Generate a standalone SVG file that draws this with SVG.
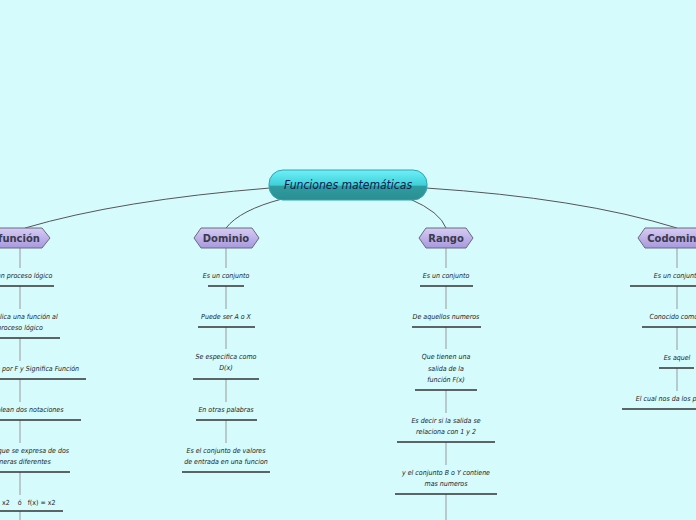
<svg xmlns="http://www.w3.org/2000/svg" width="696" height="520" viewBox="0 0 696 520">
<defs>
<linearGradient id="rg" x1="0" y1="0" x2="0" y2="1"><stop offset="0" stop-color="#6ff0f6"/><stop offset="0.5" stop-color="#3fd0da"/><stop offset="0.55" stop-color="#2f9c9f"/><stop offset="1" stop-color="#2a8e92"/></linearGradient>
<linearGradient id="hg" x1="0" y1="0" x2="0" y2="1"><stop offset="0" stop-color="#d6ccf4"/><stop offset="1" stop-color="#a898de"/></linearGradient>
</defs>
<style>
.t{font-family:"DejaVu Sans Condensed","DejaVu Sans",sans-serif;font-style:italic;font-size:7px;fill:#222;text-anchor:middle}
.h{font-family:"DejaVu Sans","Liberation Sans",sans-serif;font-weight:bold;font-size:10px;fill:#3a3a4a;text-anchor:middle}
.hex{fill:url(#hg);stroke:#6a6a7a;stroke-width:1}
.u{stroke:#333;stroke-width:1.3}
.v{stroke:#999;stroke-width:1;fill:none}
.c{stroke:#555;stroke-width:1;fill:none}
</style>
<rect width="696" height="520" fill="#d6fbfd"/>
<g id="connectors">
<path class="c" d="M270,188 Q120,200 25,228"/>
<path class="c" d="M282,199 Q240,210 226,228"/>
<path class="c" d="M410,199 Q440,212 446,228"/>
<path class="c" d="M426,188 Q580,198 677,228"/>
<path class="v" d="M20,248V268M20,286V309M20,338V361M20,379V402M20,420V443M20,472V495M20,511V520"/>
<path class="v" d="M226,248V268M226,286V309M226,327V349M226,379V402M226,420V443"/>
<path class="v" d="M446,248V268M446,286V309M446,327V349M446,390V413M446,442V465M446,494V520"/>
<path class="v" d="M677,248V268M677,286V309M677,327V350M677,368V391"/>
</g>
<g id="root"><rect x="269" y="170" width="158" height="30" rx="14" fill="url(#rg)" stroke="#2aa6b6"/>
<text x="348" y="189" style="font-family:'DejaVu Sans Condensed','DejaVu Sans',sans-serif;font-style:italic;font-size:12px;fill:#0c1a50;text-anchor:middle">Funciones matemáticas</text></g>
<g id="funcion"><path class="hex" d="M-14,238L-8,228H42L50,238L42,248H-8Z"/><text class="h" x="19" y="242">función</text></g>
<g id="dominio"><path class="hex" d="M194,238L201,228H252L259,238L252,248H201Z"/><text class="h" x="226" y="242">Dominio</text></g>
<g id="rango"><path class="hex" d="M419,238L426,228H466L473,238L466,248H426Z"/><text class="h" x="446" y="242">Rango</text></g>
<g id="codominio"><path class="hex" d="M638,238L645,228H700L706,238L700,248H645Z"/><text class="h" x="677" y="242">Codominio</text></g>
<g id="f1"><text class="t" x="20" y="278">Es un proceso lógico</text><line class="u" x1="-20" y1="286" x2="54" y2="286"/></g>
<g id="f2"><text class="t" x="20" y="319">Se aplica una función al</text><text class="t" x="20" y="330">proceso lógico</text><line class="u" x1="-20" y1="338" x2="60" y2="338"/></g>
<g id="f3"><text class="t" x="20" y="371">Es denotada por F y Significa Función</text><line class="u" x1="-40" y1="379" x2="86" y2="379"/></g>
<g id="f4"><text class="t" x="20" y="412">Se emplean dos notaciones</text><line class="u" x1="-40" y1="420" x2="81" y2="420"/></g>
<g id="f5"><text class="t" x="20" y="453">Es decir que se expresa de dos</text><text class="t" x="20" y="464">maneras diferentes</text><line class="u" x1="-40" y1="472" x2="70" y2="472"/></g>
<g id="f6"><text class="t" x="20" y="505" style="font-style:normal;white-space:pre" xml:space="preserve">x --&gt; x2    ó   f(x) = x2</text><line class="u" x1="-20" y1="511" x2="63" y2="511"/></g>
<g id="d1"><text class="t" x="226" y="278">Es un conjunto</text><line class="u" x1="208" y1="286" x2="244" y2="286"/></g>
<g id="d2"><text class="t" x="226" y="319">Puede ser A o X</text><line class="u" x1="198" y1="327" x2="255" y2="327"/></g>
<g id="d3"><text class="t" x="226" y="359">Se especifica como</text><text class="t" x="226" y="370">D(x)</text><line class="u" x1="193" y1="379" x2="259" y2="379"/></g>
<g id="d4"><text class="t" x="226" y="412">En otras palabras</text><line class="u" x1="196" y1="420" x2="257" y2="420"/></g>
<g id="d5"><text class="t" x="226" y="453">Es el conjunto de valores</text><text class="t" x="226" y="464">de entrada en una funcion</text><line class="u" x1="182" y1="472" x2="270" y2="472"/></g>
<g id="r1"><text class="t" x="446" y="278">Es un conjunto</text><line class="u" x1="420" y1="286" x2="473" y2="286"/></g>
<g id="r2"><text class="t" x="446" y="319">De aquellos numeros</text><line class="u" x1="412" y1="327" x2="481" y2="327"/></g>
<g id="r3"><text class="t" x="446" y="359">Que tienen una</text><text class="t" x="446" y="371">salida de la</text><text class="t" x="446" y="382">función F(x)</text><line class="u" x1="415" y1="390" x2="477" y2="390"/></g>
<g id="r4"><text class="t" x="446" y="423">Es decir si la salida  se</text><text class="t" x="446" y="434">relaciona con 1 y 2</text><line class="u" x1="397" y1="442" x2="495" y2="442"/></g>
<g id="r5"><text class="t" x="446" y="475">y el conjunto B o Y contiene</text><text class="t" x="446" y="486">mas numeros</text><line class="u" x1="395" y1="494" x2="497" y2="494"/></g>
<g id="c1"><text class="t" x="677" y="278">Es un conjunto</text><line class="u" x1="630" y1="286" x2="720" y2="286"/></g>
<g id="c2"><text class="t" x="677" y="319">Conocido como B</text><line class="u" x1="642" y1="327" x2="720" y2="327"/></g>
<g id="c3"><text class="t" x="677" y="360">Es aquel</text><line class="u" x1="659" y1="368" x2="694" y2="368"/></g>
<g id="c4"><text class="t" x="677" y="401">El cual nos da los posibles</text><line class="u" x1="622" y1="409" x2="740" y2="409"/></g>
</svg>
